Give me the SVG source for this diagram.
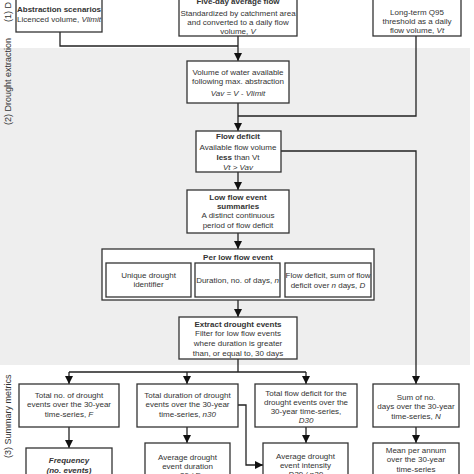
<svg xmlns="http://www.w3.org/2000/svg" width="474" height="474" viewBox="0 0 474 474">
<defs>
<style>
.box{fill:#fff;stroke:#333;stroke-width:1.3}
.ln{fill:none;stroke:#222;stroke-width:1.3}
text{font-family:"Liberation Sans",Arial,sans-serif;font-size:8px;fill:#333;text-anchor:middle}
.b{font-weight:bold}
.i{font-style:italic}
.lab{font-size:9px;text-anchor:start;fill:#333}
</style>
<marker id="ah" markerUnits="userSpaceOnUse" markerWidth="8" markerHeight="8" viewBox="0 0 8 8" refX="8" refY="4" orient="auto">
<path d="M0,0 L8,4 L0,8 Z" fill="#111"/>
</marker>
</defs>
<rect x="0" y="0" width="474" height="474" fill="#fff"/>
<rect x="0" y="48" width="470" height="317" fill="#eeeeee"/>

<g id="labels">
<text class="lab" transform="translate(11,22) rotate(-90)">(1) D</text>
<text class="lab" transform="translate(11,125) rotate(-90)">(2) Drought extraction</text>
<text class="lab" transform="translate(11,458) rotate(-90)">(3) Summary metrics</text>
</g>

<g id="connectors">
<path class="ln" d="M60,32 V46 H238"/>
<path class="ln" d="M238,36 V61" marker-end="url(#ah)"/>
<path class="ln" d="M416,36 V116 H238"/>
<path class="ln" d="M238,103 V131" marker-end="url(#ah)"/>
<path class="ln" d="M281,151 H416 V384" marker-end="url(#ah)"/>
<path class="ln" d="M238,172 V190" marker-end="url(#ah)"/>
<path class="ln" d="M238,233 V249" marker-end="url(#ah)"/>
<path class="ln" d="M238,300 V317" marker-end="url(#ah)"/>
<path class="ln" d="M238,359 V372 M69,372 H306"/>
<path class="ln" d="M69,372 V384" marker-end="url(#ah)"/>
<path class="ln" d="M187,372 V384" marker-end="url(#ah)"/>
<path class="ln" d="M306,372 V384" marker-end="url(#ah)"/>
<path class="ln" d="M69,427 V448" marker-end="url(#ah)"/>
<path class="ln" d="M187,427 V443" marker-end="url(#ah)"/>
<path class="ln" d="M306,427 V443" marker-end="url(#ah)"/>
<path class="ln" d="M416,427 V443" marker-end="url(#ah)"/>
<path class="ln" d="M238,405 H246 V465 H263" marker-end="url(#ah)"/>
</g>

<g id="abstraction">
<rect class="box" x="16" y="-10" width="86" height="42"/>
<text class="b" x="59" y="12">Abstraction scenarios</text>
<text x="59" y="22">Licenced volume, <tspan class="i">Vlimit</tspan></text>
</g>

<g id="fiveday">
<rect class="box" x="179" y="-10" width="118" height="46"/>
<text class="b" x="238" y="4">Five-day average flow</text>
<text x="238" y="16">Standardized by catchment area</text>
<text x="238" y="25">and converted to a daily flow</text>
<text x="238" y="34">volume, <tspan class="i">V</tspan></text>
</g>

<g id="q95">
<rect class="box" x="373" y="-10" width="88" height="46"/>
<text x="417" y="15">Long-term Q95</text>
<text x="417" y="24">threshold as a daily</text>
<text x="417" y="33">flow volume, <tspan class="i">Vt</tspan></text>
</g>

<g id="vav">
<rect class="box" x="187" y="61" width="102" height="42"/>
<text x="238" y="75">Volume of water available</text>
<text x="238" y="84">following max. abstraction</text>
<text class="i" x="238" y="96">Vav = V - Vlimit</text>
</g>

<g id="flowdeficit">
<rect class="box" x="196" y="131" width="85" height="41"/>
<text class="b" x="238" y="139">Flow deficit</text>
<text x="238" y="150">Available flow volume</text>
<text x="238" y="160"><tspan class="b">less</tspan> than Vt</text>
<text class="i" x="238" y="170">Vt &gt; Vav</text>
</g>

<g id="summaries">
<rect class="box" x="187" y="190" width="102" height="43"/>
<text class="b" x="238" y="200">Low flow event</text>
<text class="b" x="238" y="209">summaries</text>
<text x="238" y="218">A distinct continuous</text>
<text x="238" y="228">period of flow deficit</text>
</g>

<g id="perevent">
<rect class="box" x="102" y="249" width="272" height="51"/>
<text class="b" x="238" y="260">Per low flow event</text>
<rect class="box" x="106" y="263" width="85" height="34"/>
<text x="148.5" y="278">Unique drought</text>
<text x="148.5" y="287">identifier</text>
<rect class="box" x="195" y="263" width="85" height="34"/>
<text x="237.5" y="283">Duration, no. of days, <tspan class="i">n</tspan></text>
<rect class="box" x="285" y="263" width="86" height="34"/>
<text x="328" y="278">Flow deficit, sum of flow</text>
<text x="328" y="288">deficit over <tspan class="i">n</tspan> days, <tspan class="i">D</tspan></text>
</g>

<g id="extract">
<rect class="box" x="179" y="317" width="118" height="42"/>
<text class="b" x="238" y="327">Extract drought events</text>
<text x="238" y="336">Filter for low flow events</text>
<text x="238" y="346">where duration is greater</text>
<text x="238" y="356">than, or equal to, 30 days</text>
</g>

<g id="totalF">
<rect class="box" x="19" y="384" width="100" height="43"/>
<text x="69" y="398">Total no. of drought</text>
<text x="69" y="407">events over the 30-year</text>
<text x="69" y="417">time-series, <tspan class="i">F</tspan></text>
</g>

<g id="totaln30">
<rect class="box" x="137" y="384" width="101" height="43"/>
<text x="187.5" y="398">Total duration of drought</text>
<text x="187.5" y="407">events over the 30-year</text>
<text x="187.5" y="417">time-series, <tspan class="i">n30</tspan></text>
</g>

<g id="totalD30">
<rect class="box" x="255" y="384" width="102" height="43"/>
<text x="306" y="396">Total flow deficit for the</text>
<text x="306" y="405">drought events over the</text>
<text x="306" y="414">30-year time-series,</text>
<text class="i" x="306" y="423">D30</text>
</g>

<g id="sumN">
<rect class="box" x="373" y="384" width="86" height="43"/>
<text x="416" y="400">Sum of no.</text>
<text x="416" y="409">days over the 30-year</text>
<text x="416" y="419">time-series, <tspan class="i">N</tspan></text>
</g>

<g id="frequency">
<rect class="box" x="26" y="448" width="86" height="40"/>
<text class="b i" x="69" y="463">Frequency</text>
<text class="b i" x="69" y="473">(no. events)</text>
</g>

<g id="avgduration">
<rect class="box" x="145" y="443" width="85" height="45"/>
<text x="187.5" y="460">Average drought</text>
<text x="187.5" y="469">event duration</text>
<text class="i" x="187.5" y="478">n30 / F</text>
</g>

<g id="intensity">
<rect class="box" x="263" y="443" width="85" height="45"/>
<text x="305.5" y="459">Average drought</text>
<text x="305.5" y="468">event intensity</text>
<text class="i" x="305.5" y="477">D30 / n30</text>
</g>

<g id="meanannum">
<rect class="box" x="373" y="443" width="86" height="45"/>
<text x="416" y="453">Mean per annum</text>
<text x="416" y="462">over the 30-year</text>
<text x="416" y="472">time-series</text>
</g>
</svg>
